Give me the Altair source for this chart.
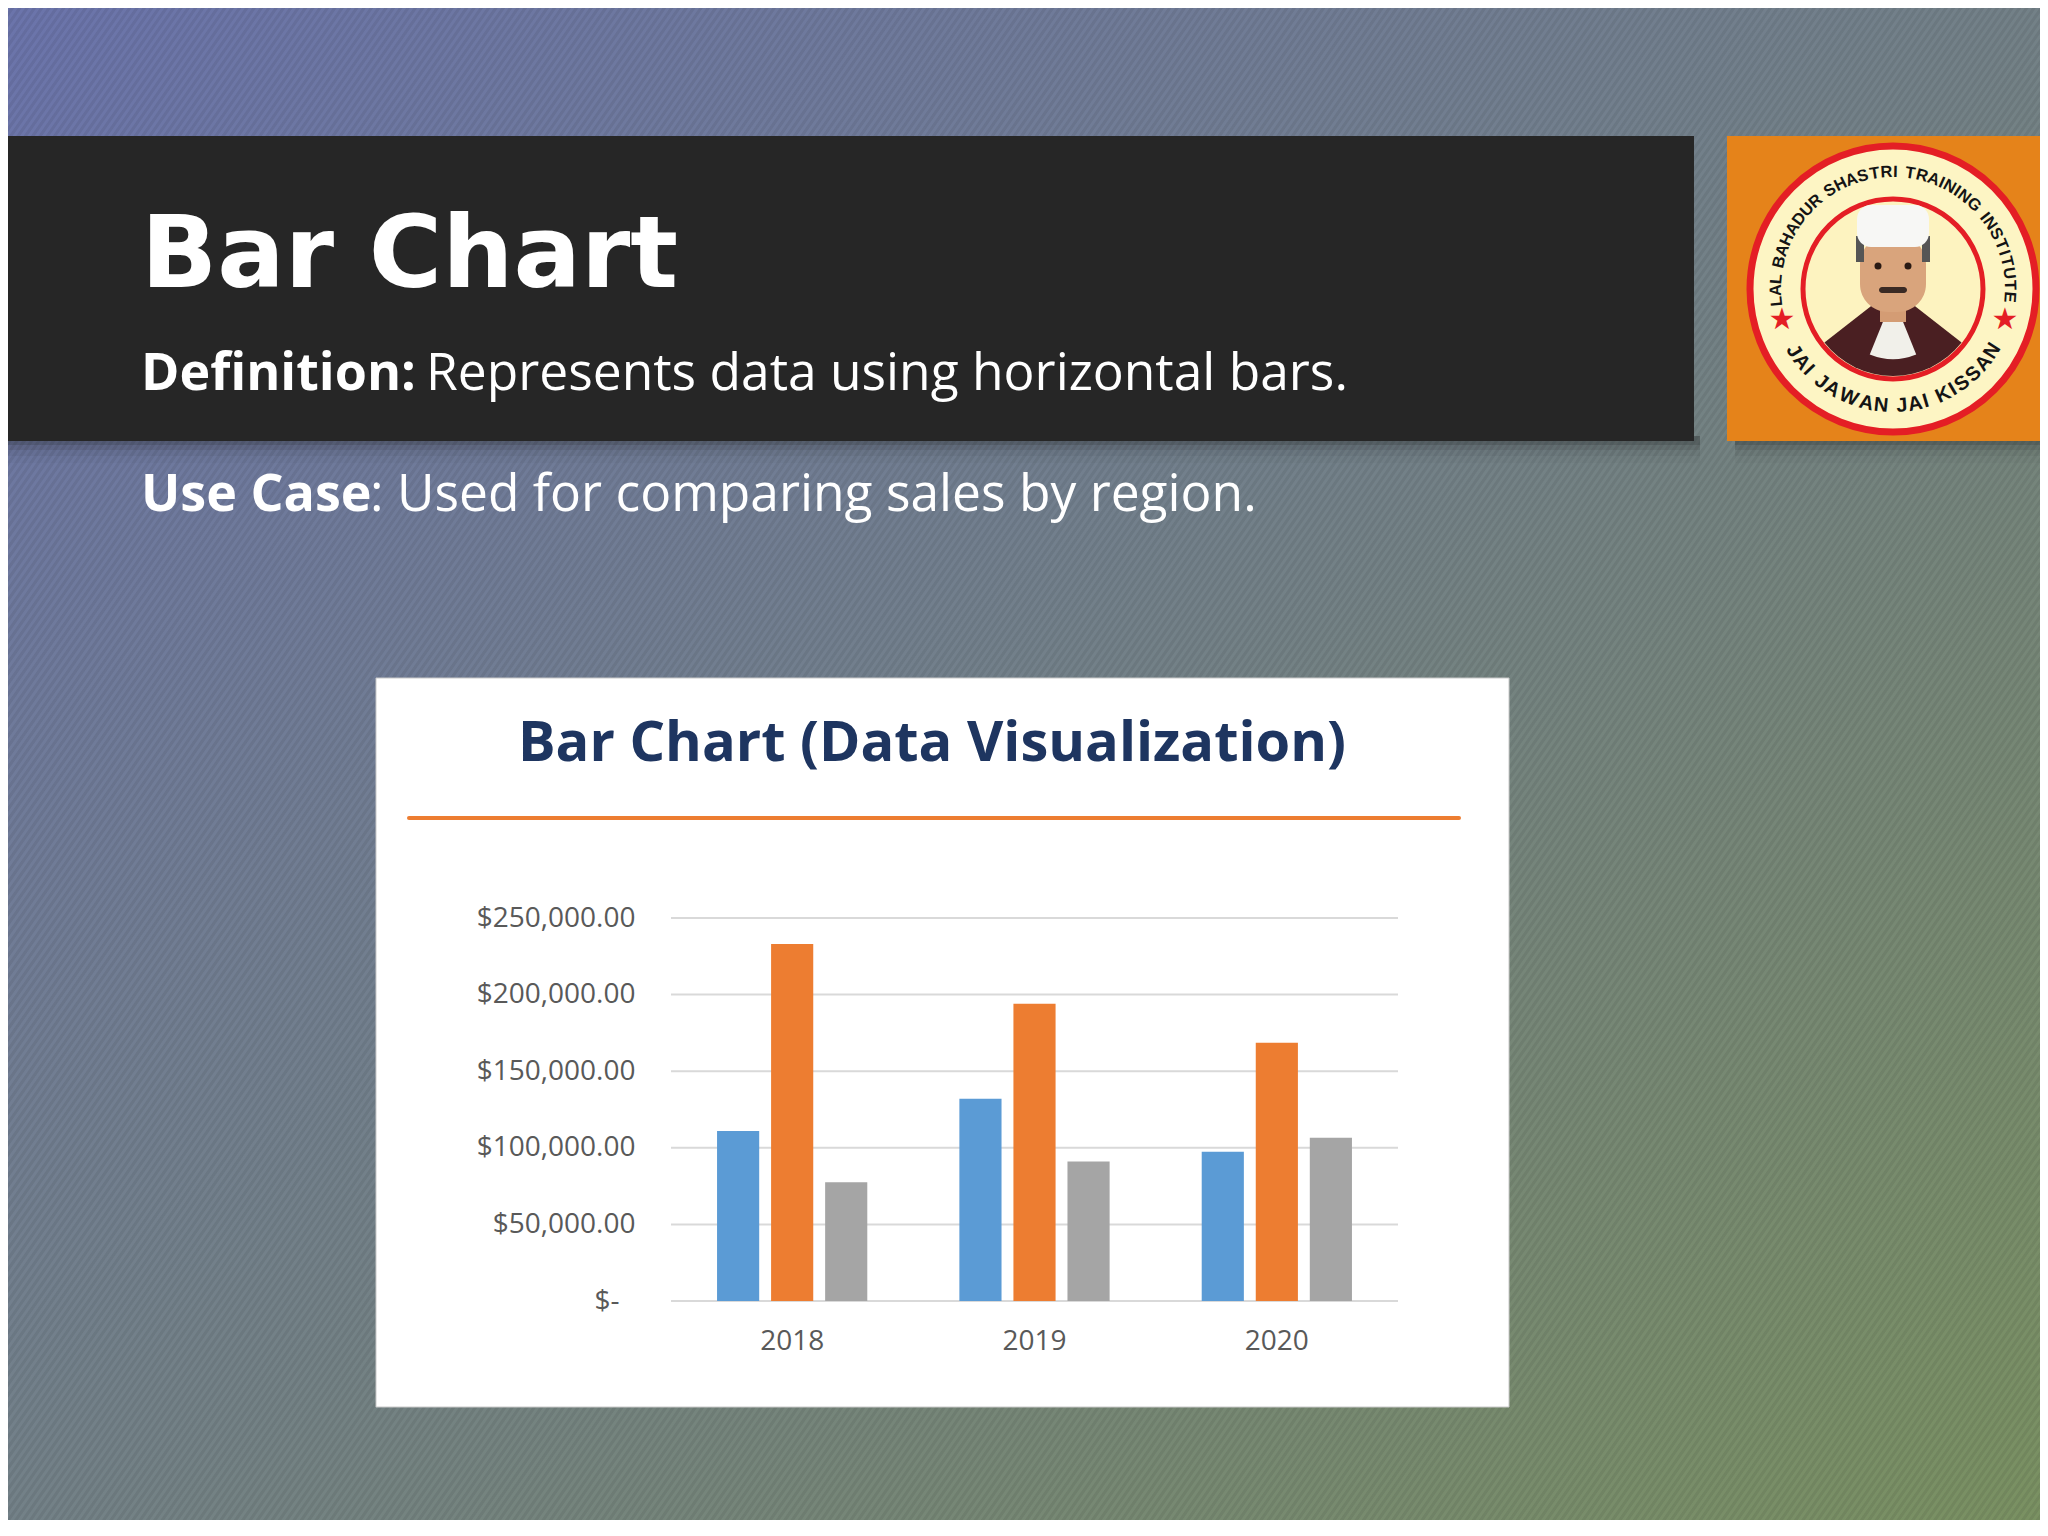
import math
import altair as alt
import pandas as pd

# ---------------- data ----------------
years = ["2018", "2019", "2020"]
series = ["Series 1", "Series 2", "Series 3"]
series1_values = [111000, 132000, 97500]
series2_values = [233000, 194000, 168500]
series3_values = [77500, 91000, 106500]
y_ticks = [0, 50000, 100000, 150000, 200000, 250000]
bar_colors = ["#5b9bd5", "#ed7d31", "#a5a5a5"]

slide_title = "Bar Chart"
definition_label = "Definition:"
definition_text = "Represents data using horizontal bars."
usecase_label = "Use Case"
usecase_text = ": Used for comparing sales by region."
chart_title = "Bar Chart (Data Visualization)"
logo_top_text = "LAL BAHADUR SHASTRI TRAINING INSTITUTE"
logo_bottom_text = "JAI JAWAN JAI KISSAN"

rows = []
for vals, s in zip([series1_values, series2_values, series3_values], series):
    for yr, v in zip(years, vals):
        rows.append({"year": yr, "series": s, "value": v})
df = pd.DataFrame(rows)

# ---------------- layout (page pixels) ----------------
VIEW_X, VIEW_Y = 671, 918          # plot area origin on the page
VIEW_W, VIEW_H = 727, 383
SVG_W, SVG_H = 2032, 1512
PAD_L, PAD_T = VIEW_X - 8, VIEW_Y - 8
PAD_R = SVG_W - PAD_L - VIEW_W
PAD_B = SVG_H - PAD_T - VIEW_H


def vx(X):
    return X - VIEW_X


def vy(Y):
    return Y - VIEW_Y


one = pd.DataFrame({"k": [0]})


def rect(x1, y1, x2, y2, **kw):
    return alt.Chart(one).mark_rect(**kw).encode(
        x=alt.value(vx(x1)), x2=alt.value(vx(x2)),
        y=alt.value(vy(y1)), y2=alt.value(vy(y2)))


def text(s, X, Y, **kw):
    return alt.Chart(one).mark_text(text=s, **kw).encode(
        x=alt.value(vx(X)), y=alt.value(vy(Y)))


def circle(X, Y, r, **kw):
    return alt.Chart(one).mark_point(shape="circle", filled=True, opacity=1,
                                     size=(2 * r) ** 2, **kw).encode(
        x=alt.value(vx(X)), y=alt.value(vy(Y)))


def wedge(X, Y, r, t1, t2, color):
    return alt.Chart(one).mark_arc(theta=math.radians(t1), theta2=math.radians(t2),
                                   outerRadius=r, innerRadius=0, color=color).encode(
        x=alt.value(vx(X)), y=alt.value(vy(Y)))


layers = []

# background gradient
bg = alt.Gradient(
    gradient="linear", x1=0, y1=0, x2=1, y2=1,
    stops=[alt.GradientStop(color="#6b74ab", offset=0),
           alt.GradientStop(color="#717d93", offset=0.35),
           alt.GradientStop(color="#768678", offset=0.7),
           alt.GradientStop(color="#7a9162", offset=1)])
layers.append(rect(8, 8, 8 + SVG_W, 8 + SVG_H, color=bg))

# diagonal texture (one wide dashed stroke)
a = math.radians(35)
cxp, cyp, L = 1024, 768, 1500
layers.append(alt.Chart(one).mark_rule(strokeWidth=2800, strokeDash=[3, 3],
                                       color="#101010", opacity=0.07).encode(
    x=alt.value(vx(cxp - L * math.cos(a))), y=alt.value(vy(cyp - L * math.sin(a))),
    x2=alt.value(vx(cxp + L * math.cos(a))), y2=alt.value(vy(cyp + L * math.sin(a)))))

# shadows under banner and logo box
for k, op in [(4, 0.16), (9, 0.10), (15, 0.06), (22, 0.03)]:
    layers.append(rect(0, 436, 1700, 441 + k, color="#1a1a1a", opacity=op))
    layers.append(rect(1735, 436, 2048, 441 + k, color="#1a1a1a", opacity=op))

# black banner
layers.append(rect(0, 136, 1694, 441, color="#262626"))
# orange logo box
layers.append(rect(1727, 136, 2048, 441, color="#e5831a"))

# logo
LCX, LCY = 1893, 289
layers.append(circle(LCX, LCY, 143, fill="#fdf5c4", stroke="#e41e25", strokeWidth=7))
layers.append(circle(LCX, LCY, 90, fill="#fdf3c0", stroke="#e41e25", strokeWidth=5))
layers.append(wedge(LCX, LCY, 87, 128, 232, "#4a1f22"))
layers.append(wedge(LCX, LCY + 8, 62, 158, 202, "#f1f0ea"))
layers.append(rect(1880, 296, 1906, 322, color="#d49c74"))
layers.append(rect(1860, 236, 1926, 312, color="#d9a47c", cornerRadius=28))
layers.append(rect(1856, 236, 1864, 262, color="#555555"))
layers.append(rect(1922, 236, 1930, 262, color="#555555"))
layers.append(rect(1857, 205, 1929, 247, color="#f7f7f5", cornerRadius=14))
layers.append(circle(1878, 266, 3.5, fill="#2a1a14"))
layers.append(circle(1908, 266, 3.5, fill="#2a1a14"))
layers.append(rect(1879, 287, 1907, 293, color="#3a2a24", cornerRadius=3))

# approximate relative glyph widths for spacing letters on the ring
GW = {" ": 0.45, "I": 0.42, "J": 0.7, "L": 0.75, "W": 1.3, "M": 1.1, "G": 1.0}


def ring(txt, phi_start, phi_end, bottom):
    w = [GW.get(c, 0.88) for c in txt]
    centers = []
    acc = 0.0
    for wi in w:
        centers.append(acc + wi / 2)
        acc += wi
    c0, c1 = centers[0], centers[-1]
    out = []
    for c, ch in zip(centers, txt):
        phi = phi_start + (phi_end - phi_start) * (c - c0) / (c1 - c0)
        p = math.radians(phi)
        rot = (phi - 180) % 360 if bottom else phi % 360
        out.append({"px": vx(LCX + R_TXT * math.sin(p)), "py": vy(LCY - R_TXT * math.cos(p)),
                    "rot": rot, "ch": ch})
    return out


R_TXT = 117
ring_font = "Liberation Sans"
top_letters = pd.DataFrame(ring(logo_top_text, -96, 94, False))
bottom_letters = pd.DataFrame(ring(logo_bottom_text, 238, 122, True))
for frame, fs in [(top_letters, 16.5), (bottom_letters, 20)]:
    layers.append(alt.Chart(frame).mark_text(
        font=ring_font, fontWeight="bold", fontSize=fs,
        color="#141414", align="center", baseline="middle").encode(
        x=alt.X("px:Q", scale=None, axis=None), y=alt.Y("py:Q", scale=None, axis=None),
        angle=alt.Angle("rot:Q", scale=None), text="ch:N"))
layers.append(text("\u2605", 1782, 320, font="DejaVu Sans", fontSize=30, color="#e41e25",
                   align="center", baseline="middle"))
layers.append(text("\u2605", 2005, 320, font="DejaVu Sans", fontSize=30, color="#e41e25",
                   align="center", baseline="middle"))

# slide texts
layers.append(text(slide_title, 141, 287, font="DejaVu Sans", fontWeight="bold",
                   fontSize=100, color="#ffffff", align="left", baseline="alphabetic"))
layers.append(text(definition_label, 141, 390, font="Open Sans", fontWeight="bold",
                   fontSize=52, color="#ffffff", align="left", baseline="alphabetic"))
layers.append(text(definition_text, 426, 390, font="Open Sans", fontWeight="normal",
                   fontSize=51.5, color="#ffffff", align="left", baseline="alphabetic"))
layers.append(text(usecase_label, 141, 511, font="Open Sans", fontWeight="bold",
                   fontSize=52, color="#ffffff", align="left", baseline="alphabetic"))
layers.append(text(usecase_text, 370, 511, font="Open Sans", fontWeight="normal",
                   fontSize=51.5, color="#ffffff", align="left", baseline="alphabetic"))

# white chart card
layers.append(rect(376, 678, 1509, 1407, color="#ffffff", stroke="#c9c9c9", strokeWidth=1))
layers.append(text(chart_title, 932, 761, font="Open Sans",
                   fontWeight="bold", fontSize=56, color="#1e3560", align="center",
                   baseline="alphabetic"))
layers.append(alt.Chart(one).mark_rule(color="#ed7d31", strokeWidth=4, strokeCap="round").encode(
    x=alt.value(vx(409)), x2=alt.value(vx(1459)), y=alt.value(vy(818))))

# axes / scales
label_style = dict(labelFont="Open Sans", labelFontSize=28, labelColor="#595959")
yscale = alt.Scale(domain=[0, 250000], nice=False)
yaxis = alt.Axis(title=None, values=y_ticks, grid=False, domain=False, ticks=False,
                 labelPadding={"condition": {"test": "datum.value === 0", "value": 52}, "value": 36},
                 zindex=1,
                 labelExpr="datum.value === 0 ? '$-' : format(datum.value, '$,.2f')",
                 **label_style)

# gridlines through the y scale
grid = alt.Chart(pd.DataFrame({"value": y_ticks})).mark_rule(color="#d9d9d9", strokeWidth=2).encode(
    y=alt.Y("value:Q", scale=yscale, axis=yaxis),
    x=alt.value(0), x2=alt.value(VIEW_W))
layers.append(grid)

bars = alt.Chart(df).mark_bar().encode(
    x=alt.X("year:N", sort=years,
            scale=alt.Scale(paddingInner=0.38, paddingOuter=0.19),
            axis=alt.Axis(title=None, labelAngle=0, domain=False, ticks=False, grid=False,
                          labelPadding=26, zindex=1, **label_style)),
    xOffset=alt.XOffset("series:N", sort=series,
                        scale=alt.Scale(paddingInner=0.22, paddingOuter=0)),
    y=alt.Y("value:Q", scale=yscale, axis=yaxis),
    color=alt.Color("series:N", sort=series,
                    scale=alt.Scale(domain=series, range=bar_colors), legend=None),
)
layers.append(bars)

chart = alt.layer(*layers).properties(
    width=VIEW_W, height=VIEW_H,
    autosize=alt.AutoSizeParams(type="none"),
    padding={"left": PAD_L, "top": PAD_T, "right": PAD_R, "bottom": PAD_B},
).configure_view(strokeWidth=0)

chart.save("out.html", embed_options={"renderer": "svg", "actions": False})
